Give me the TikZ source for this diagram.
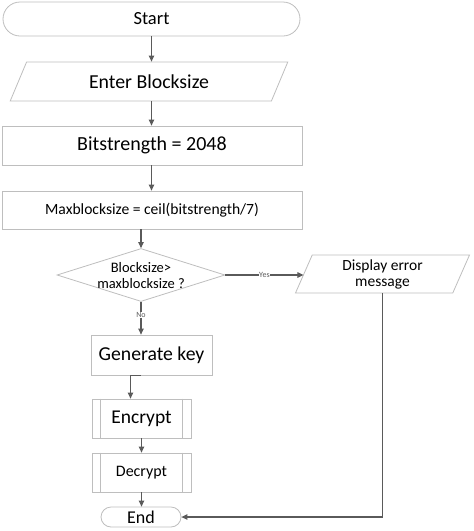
\documentclass[tikz,border=0pt]{standalone}
\usepackage{fontspec}
\setmainfont{Carlito}
\usetikzlibrary{shapes.geometric,arrows.meta,calc}
\definecolor{boxgray}{RGB}{190,190,190}
\definecolor{linegray}{RGB}{90,90,90}
\tikzset{
  shapebox/.style={draw=boxgray, line width=0.8pt, fill=white, inner sep=0pt, align=center, text=black},
  procbox/.style={shapebox, rectangle},
  termbox/.style={shapebox, rectangle, rounded corners=#1},
  iobox/.style={shapebox, trapezium, trapezium stretches=true},
  txt/.style={inner sep=0pt, align=center, text=black},
  conn/.style={draw=linegray, line width=1.1pt, -{Triangle[length=6pt,width=5.5pt]}},
  branchlbl/.style={font=\fontsize{8}{9}\selectfont, fill=white, inner sep=0.5pt, text=linegray},
}
\begin{document}
\begin{tikzpicture}[x=1pt,y=-1pt]
\useasboundingbox (0,0) rectangle (474,531);

\node[termbox=17pt, minimum width=297pt, minimum height=34pt, font=\fontsize{18.5}{22}\selectfont] (start) at (151.5,19) {Start};
\node[iobox, trapezium left angle=60, trapezium right angle=120, minimum width=278pt, minimum height=39pt, font=\fontsize{19.8}{23}\selectfont] (enter) at (149,81.5) {Enter Blocksize};
\node[procbox, minimum width=300pt, minimum height=39pt, font=\fontsize{20}{24}\selectfont] (bits) at (152,145.5) {Bitstrength = 2048};
\node[procbox, minimum width=300pt, minimum height=38pt, font=\fontsize{15.6}{18}\selectfont] (maxb) at (152,210) {Maxblocksize = ceil(bitstrength/7)};
\node[shapebox, diamond, aspect=3.2, minimum width=168pt, minimum height=53pt] (dia) at (141,275) {};
\node[txt, font=\fontsize{14.5}{16}\selectfont] (dialbl) at (141,275.5) {Blocksize>\\maxblocksize ?};
\node[iobox, trapezium left angle=72, trapezium right angle=108, minimum width=175pt, minimum height=38pt, font=\fontsize{15.5}{16}\selectfont] (disp) at (382.5,274) {Display error\\message};
\node[procbox, minimum width=121pt, minimum height=40pt, font=\fontsize{19.7}{23}\selectfont] (gen) at (151.5,355) {Generate key};
\node[procbox, minimum width=99pt, minimum height=39pt, font=\fontsize{19.5}{23}\selectfont] (enc) at (141.5,418.5) {Encrypt};
\node[procbox, minimum width=99pt, minimum height=39pt, font=\fontsize{16}{19}\selectfont] (dec) at (141.5,472.5) {Decrypt};
\node[termbox=10pt, minimum width=80pt, minimum height=20pt, font=\fontsize{18}{20}\selectfont] (endn) at (141,517) {End};

% inner lines of predefined process boxes
\foreach \n in {enc,dec}{
  \draw[draw=boxgray, line width=0.8pt] ($(\n.north west)+(9,0)$) -- ($(\n.south west)+(9,0)$);
  \draw[draw=boxgray, line width=0.8pt] ($(\n.north east)+(-9,0)$) -- ($(\n.south east)+(-9,0)$);
}

\coordinate (ge) at ($(enc.north)+(-11,0)$);

\draw[conn] (start.south) -- (start.south |- enter.north);
\draw[conn] (enter.south -| start.south) -- (start.south |- bits.north);
\draw[conn] (bits.south -| start.south) -- (start.south |- maxb.north);
\draw[conn] (dia.north |- maxb.south) -- (dia.north);
\draw[conn] (dia.east) -- node[branchlbl, pos=0.5] {Yes} (dia.east -| disp.west);
\draw[conn] (dia.south) -- node[branchlbl, pos=0.4] {No} (dia.south |- gen.north);
\draw[conn] ($(gen.south)+(-11,0)$) -| (ge);
\draw[conn] (enc.south) -- (dec.north);
\draw[conn] (dec.south) -- (dec.south |- endn.north);
\draw[conn] (disp.south) |- (endn.east);
\end{tikzpicture}
\end{document}
